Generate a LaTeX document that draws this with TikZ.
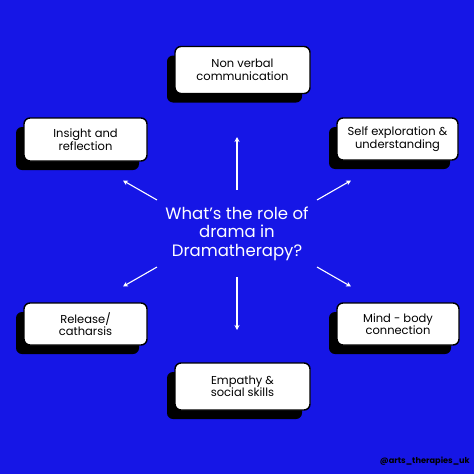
\documentclass[tikz,border=0pt]{standalone}
\usepackage{fontspec}
\setmainfont{Poppins}
\usetikzlibrary{shadows,arrows.meta}
\definecolor{bg}{RGB}{22,22,230}
\tikzset{
  card/.style={draw=black, line width=1.4pt, fill=white, rounded corners=6pt,
    align=center, font=\fontsize{11.5}{12.5}\selectfont, text=black,
    general shadow={fill=black, shadow xshift=-8pt, shadow yshift=-9pt}},
  arr/.style={draw=white, line width=1.1pt, -{Stealth[length=5pt,width=5pt]}},
}
\begin{document}
\begin{tikzpicture}[x=1pt,y=-1pt]
\fill[bg] (0,0) rectangle (474,474);
\useasboundingbox (0,0) rectangle (474,474);
\node[card, minimum width=135pt, minimum height=47pt] (nv) at (242.5,70) {Non verbal\\communication};
\node[card, minimum width=123pt, minimum height=43pt] (ins) at (85.5,139.5) {Insight and\\reflection};
\node[card, minimum width=121pt, minimum height=42pt] (se) at (397.5,139) {Self exploration \&\\understanding};
\node[card, minimum width=123pt, minimum height=42pt] (rel) at (85.5,324) {Release/\\catharsis};
\node[card, minimum width=122pt, minimum height=42pt] (mb) at (398,324) {Mind - body\\connection};
\node[card, minimum width=135pt, minimum height=47pt] (emp) at (242.5,386.5) {Empathy \&\\social skills};
\node[text=white, align=center, font=\fontsize{16.5}{18.5}\selectfont] (q) at (237,233.5) {What’s the role of\\drama in\\Dramatherapy?};
\coordinate (a1s) at (237,190); \coordinate (a1e) at (237,137);
\coordinate (a2s) at (237,277); \coordinate (a2e) at (237,330);
\coordinate (a3s) at (157,200); \coordinate (a3e) at (123,180.5);
\coordinate (a4s) at (317,200); \coordinate (a4e) at (351,180.5);
\coordinate (a5s) at (157,267); \coordinate (a5e) at (123,286.5);
\coordinate (a6s) at (317,267); \coordinate (a6e) at (351,286.5);
\draw[arr] (a1s) -- (a1e);
\draw[arr] (a2s) -- (a2e);
\draw[arr] (a3s) -- (a3e);
\draw[arr] (a4s) -- (a4e);
\draw[arr] (a5s) -- (a5e);
\draw[arr] (a6s) -- (a6e);
\node[anchor=east, text=black, font=\bfseries\fontsize{8.2}{10}\selectfont, inner sep=0pt] (h) at (470,461) {@arts\_therapies\_uk};
\end{tikzpicture}
\end{document}
